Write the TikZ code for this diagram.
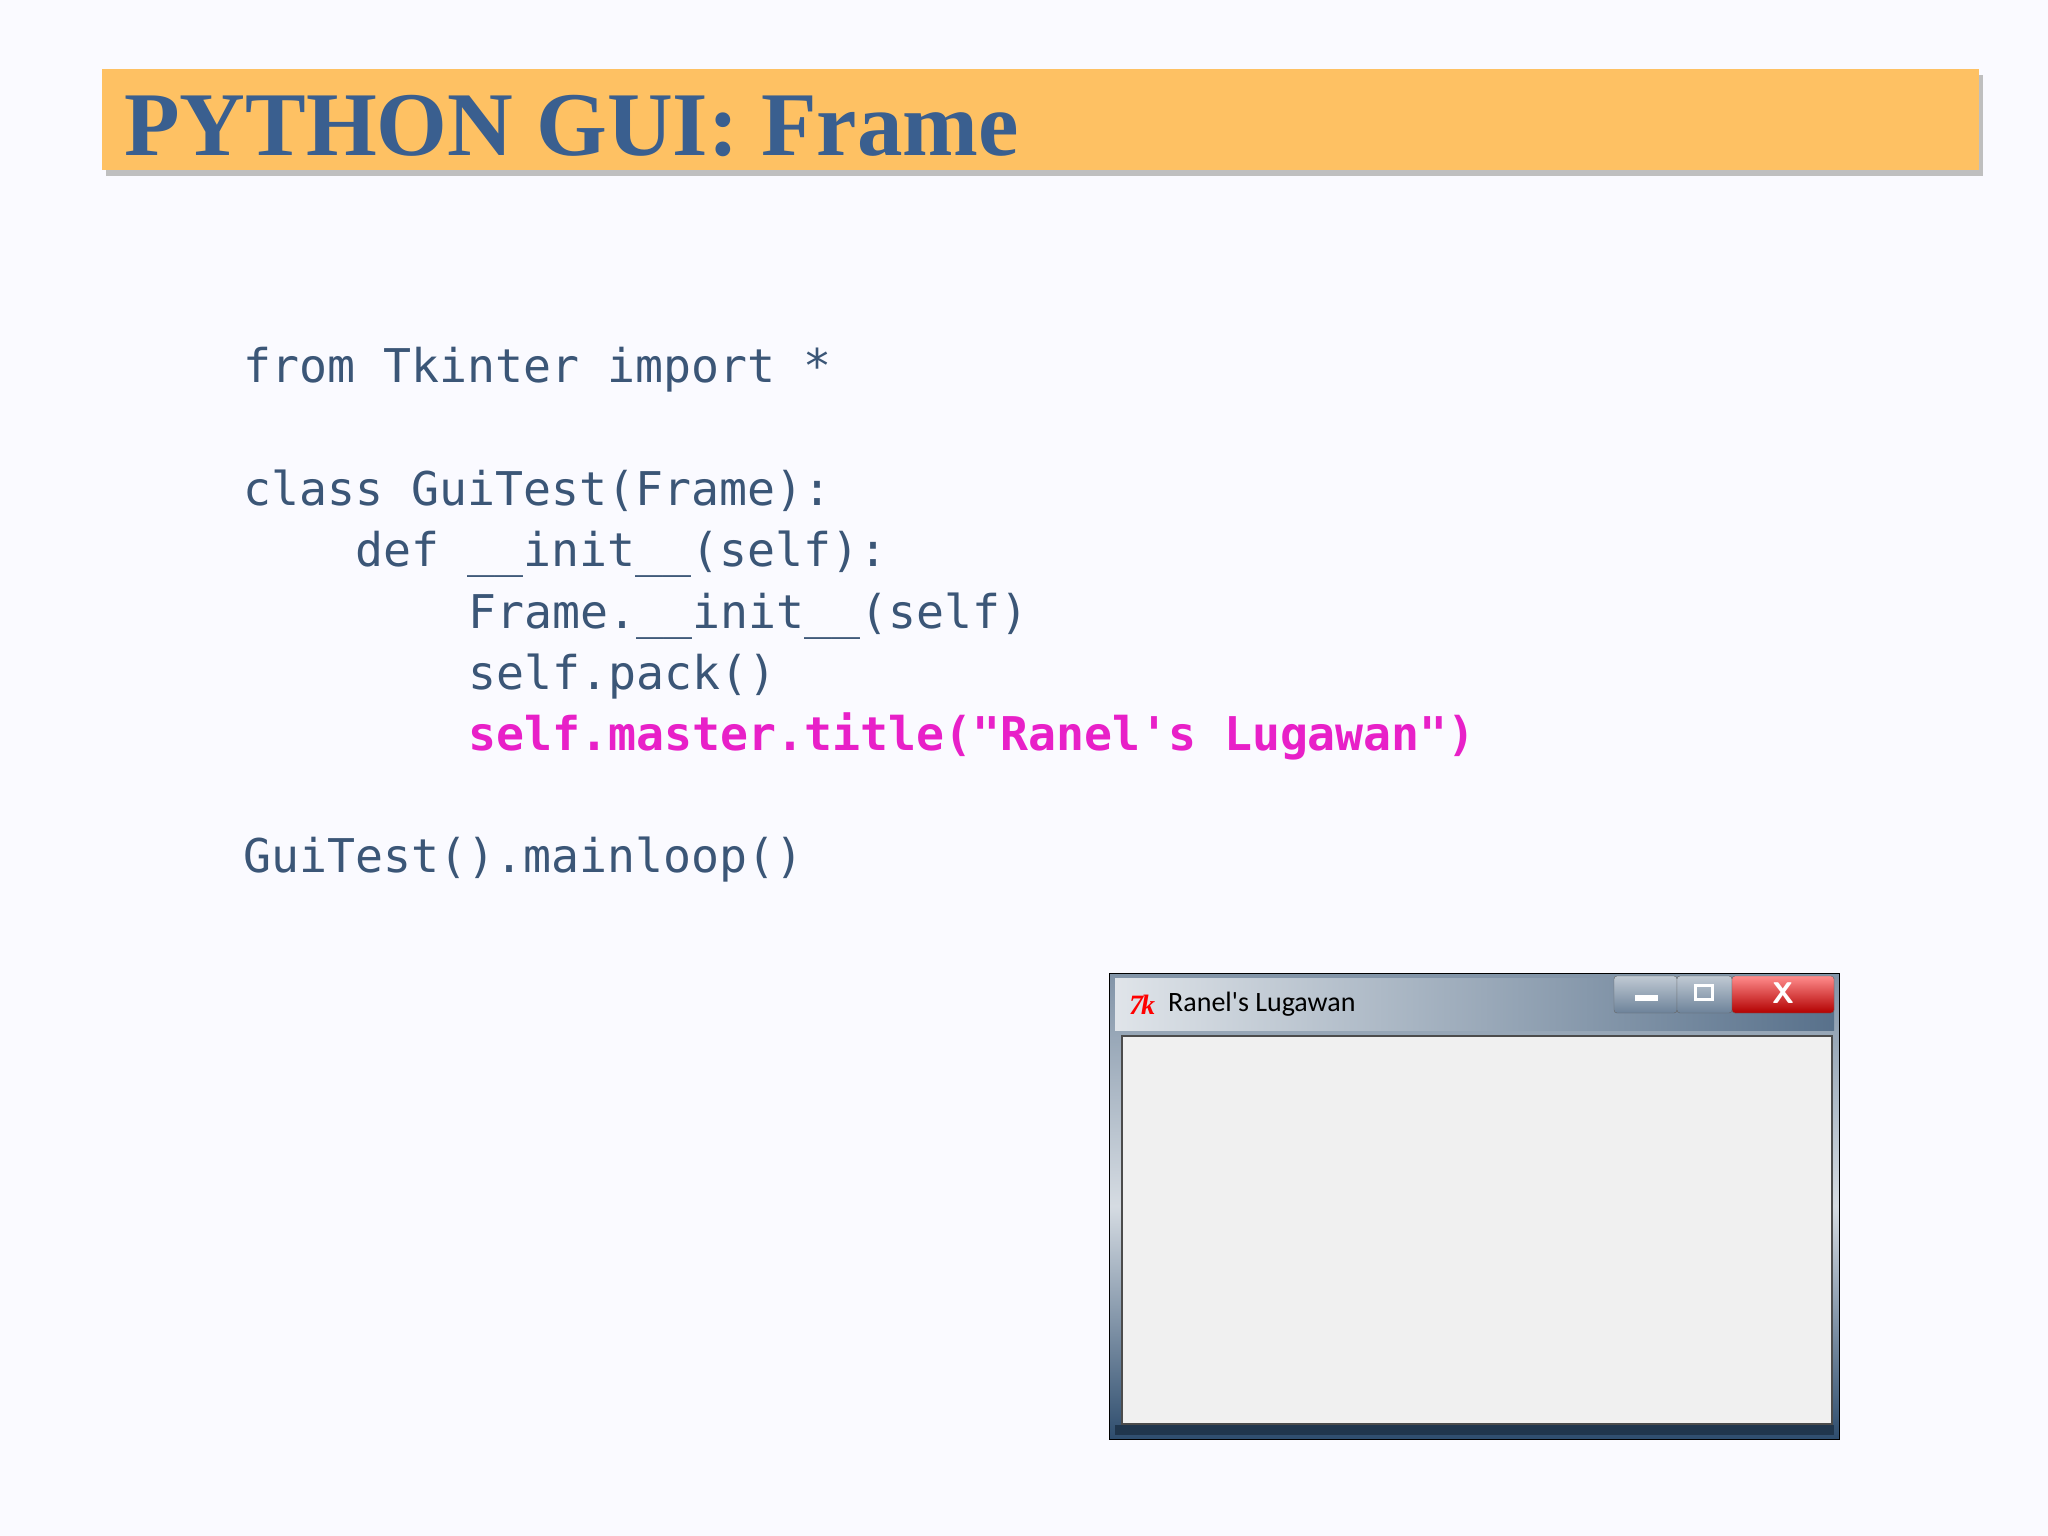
\documentclass[tikz,border=0pt]{standalone}
\usepackage{fontspec}
\setmainfont{Liberation Serif}
\newfontfamily\codefont{DejaVu Sans Mono}
\newfontfamily\winfont{Carlito}
\begin{document}
\begin{tikzpicture}[x=1pt,y=-1pt,
  code/.style={anchor=base west,inner sep=0pt,text=codeblue,font=\codefont\fontsize{46.5}{50}\selectfont},
  btn/.style={draw=black!60,rounded corners=3pt}]
\definecolor{codeblue}{HTML}{3B5677}
\definecolor{titleblue}{HTML}{3A5F8F}
\definecolor{bar}{HTML}{FEC163}
\definecolor{mag}{HTML}{E820C8}
\definecolor{winblue}{HTML}{2E4D6E}
\useasboundingbox (0,0) rectangle (2048,1536);
\fill[white!98!blue] (0,0) rectangle (2048,1536);
% title bar
\fill[black!25] (106,75) rectangle (1983,176);
\fill[bar] (102,69) rectangle (1979,170);
\node (title) [anchor=base west,inner sep=0pt,text=titleblue,font=\bfseries\fontsize{91}{95}\selectfont] at (124,156) {PYTHON GUI: Frame};
% code
\node (l1) [code] at (243,382) {from Tkinter import *};
\node (l2) [code] at (243,505) {class GuiTest(Frame):};
\node (l3) [code] at (355,566) {def \_\_init\_\_(self):};
\node (l4) [code] at (468,628) {Frame.\_\_init\_\_(self)};
\node (l5) [code] at (468,689) {self.pack()};
\node (l6) [code,text=mag,font=\codefont\bfseries\fontsize{46.5}{50}\selectfont] at (468,750) {self.master.title("Ranel's Lugawan")};
\node (l7) [code] at (243,872) {GuiTest().mainloop()};
% window
\shade[top color=winblue!60,bottom color=winblue,middle color=white!80!winblue,draw=black] (1109,973) rectangle (1839,1439);
\shade[left color=white!85!winblue,right color=winblue!80] (1115,978) rectangle (1834,1030);
\fill[white!94!black,draw=black!70,line width=2pt] (1122,1036) rectangle (1832,1424);
\fill[winblue!70!black] (1115,1425) rectangle (1834,1435);
\draw[btn,top color=white!70!winblue,bottom color=winblue!70,shade] (1614,976) rectangle (1677,1013);
\draw[btn,top color=white!70!winblue,bottom color=winblue!70,shade] (1677,976) rectangle (1732,1013);
\draw[btn,top color=red!45!white,bottom color=red!70!black,shade] (1732,976) rectangle (1834,1013);
\fill[white] (1635,995) rectangle (1658,1001);
\draw[white,line width=3pt] (1695,985) rectangle (1712,999);
\node (xx) [text=white,font=\sffamily\bfseries\fontsize{30}{30}\selectfont] at (1783,993) {X};
\node (tk) [text=red,font=\itshape\bfseries\fontsize{28}{28}\selectfont] at (1142,1005) {7\kern-2pt k};
\node (wt) [anchor=west,inner sep=0pt,font=\winfont\fontsize{28}{30}\selectfont] at (1168,1004) {Ranel's Lugawan};
\end{tikzpicture}
\end{document}
